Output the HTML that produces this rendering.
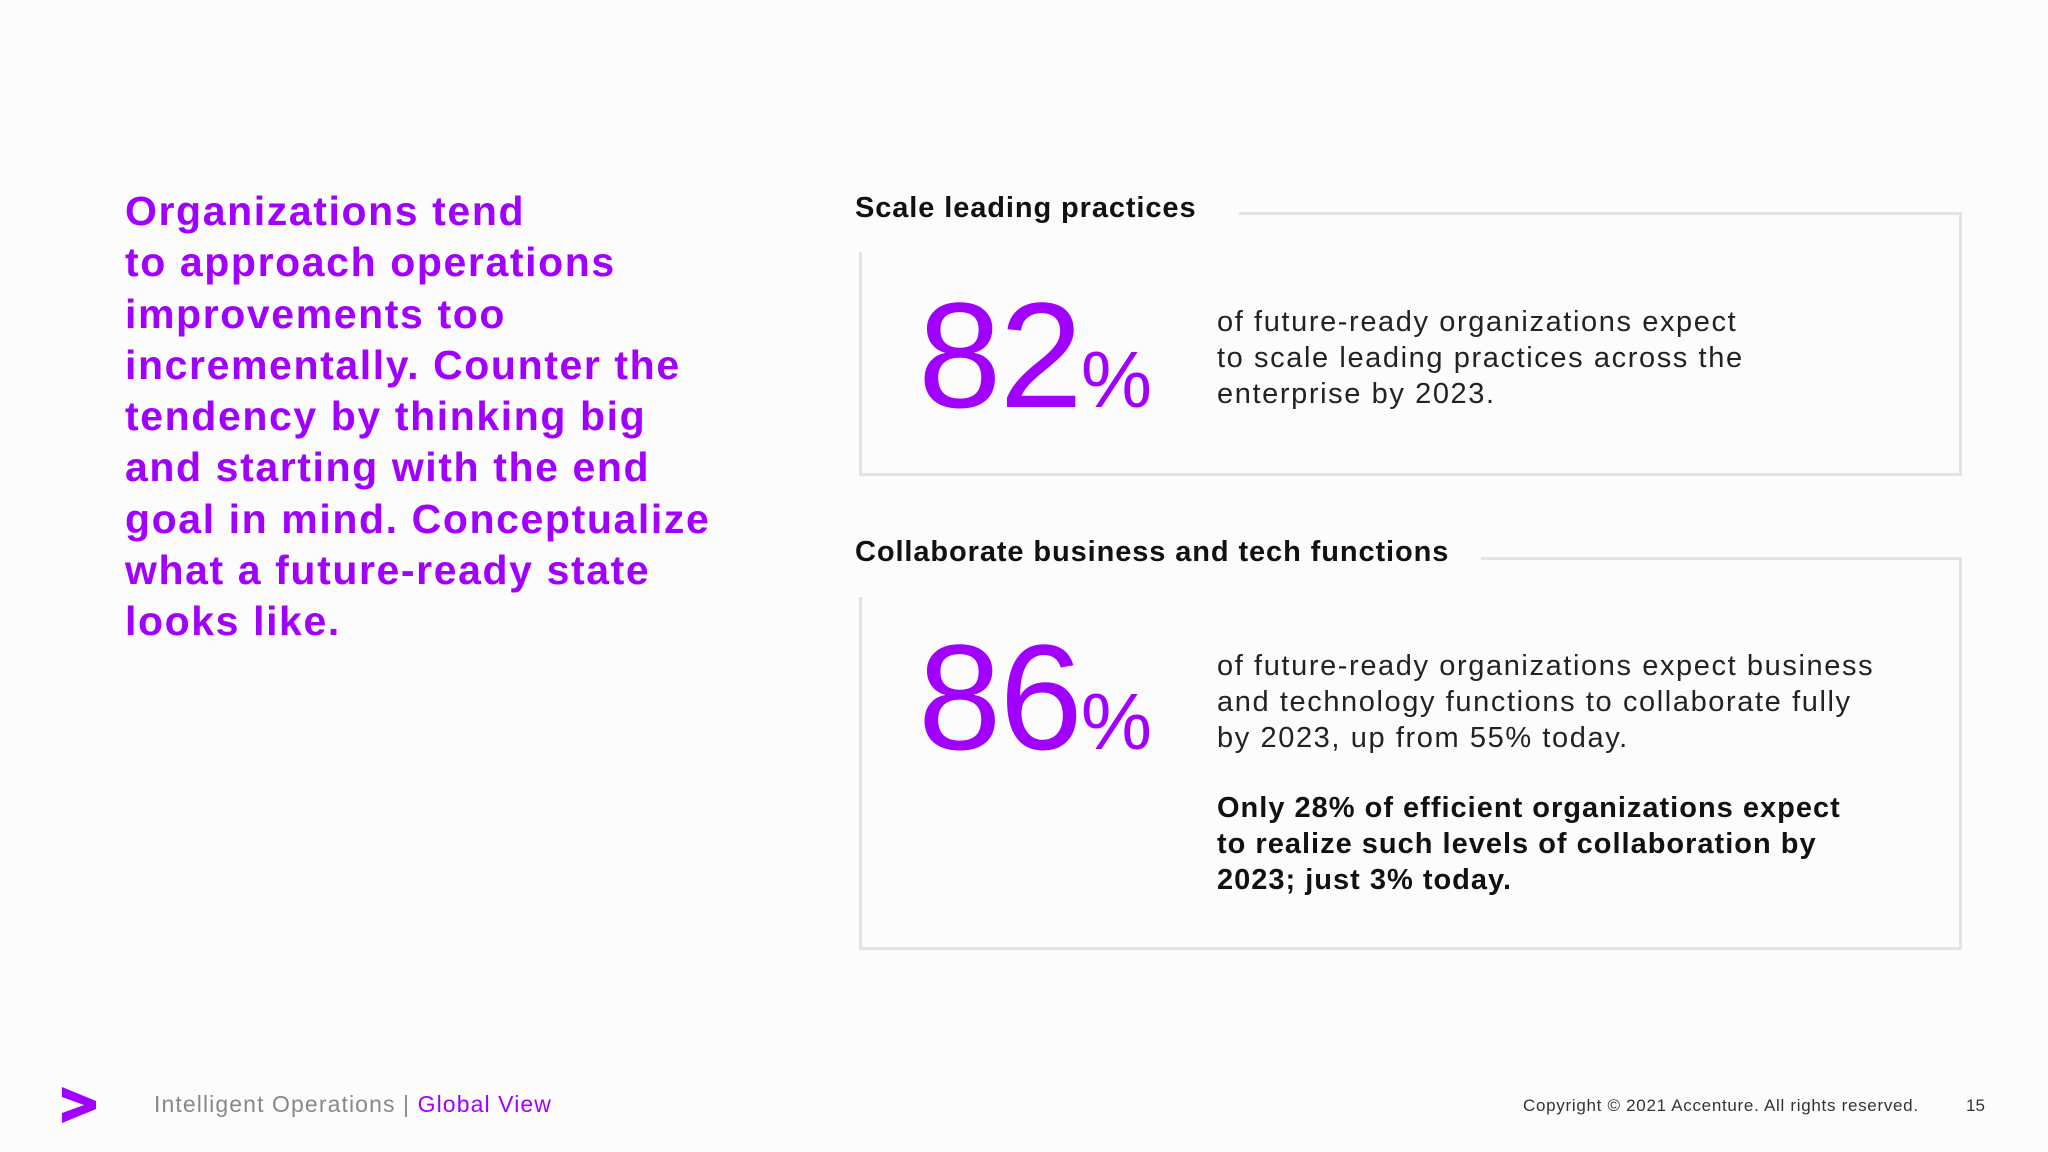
<!DOCTYPE html>
<html><head><meta charset="utf-8"><style>
*{margin:0;padding:0;box-sizing:border-box}
body{width:2048px;height:1152px;background:#fdfcfd;position:relative;overflow:hidden;font-family:"Liberation Sans",sans-serif;color:#111}
.a{position:absolute;white-space:nowrap}
.head{left:125px;top:186px;font-size:41px;line-height:51.3px;font-weight:bold;color:#a100ff;letter-spacing:1.6px}
.st{font-size:29px;font-weight:bold;letter-spacing:0.9px}
.line{position:absolute;background:#e3e3e0}
.big{color:#a100ff;font-size:150px;line-height:1;letter-spacing:-2px}
.big span{font-size:80px;letter-spacing:0}
.tx{font-size:29px;line-height:36px;color:#222;letter-spacing:1.6px}
</style></head><body>
<div class="a head">Organizations tend<br>to approach operations<br>improvements too<br>incrementally. Counter the<br>tendency by thinking big<br>and starting with the end<br>goal in mind. Conceptualize<br>what a future-ready state<br>looks like.</div>

<div class="a st" style="left:855px;top:192px">Scale leading practices</div>
<div class="line" style="left:1239px;top:212px;width:723px;height:3px"></div>
<div class="line" style="left:1959px;top:212px;width:3px;height:264px"></div>
<div class="line" style="left:859px;top:252px;width:3px;height:224px"></div>
<div class="line" style="left:859px;top:473px;width:1103px;height:3px"></div>
<div class="a big" style="left:918px;top:280px">82<span>%</span></div>
<div class="a tx" style="left:1217px;top:304px">of future-ready organizations expect<br>to scale leading practices across the<br>enterprise by 2023.</div>

<div class="a st" style="left:855px;top:536px">Collaborate business and tech functions</div>
<div class="line" style="left:1481px;top:557px;width:481px;height:3px"></div>
<div class="line" style="left:1959px;top:557px;width:3px;height:393px"></div>
<div class="line" style="left:859px;top:597px;width:3px;height:353px"></div>
<div class="line" style="left:859px;top:947px;width:1103px;height:3px"></div>
<div class="a big" style="left:918px;top:622px">86<span>%</span></div>
<div class="a tx" style="left:1217px;top:648px">of future-ready organizations expect business<br>and technology functions to collaborate fully<br>by 2023, up from 55% today.</div>
<div class="a tx" style="left:1217px;top:790px;font-weight:bold;color:#111;letter-spacing:1px">Only 28% of efficient organizations expect<br>to realize such levels of collaboration by<br>2023; just 3% today.</div>

<svg class="a" style="left:62px;top:1087px" width="36" height="36"><polygon points="0,0 34,14 34,22 0,36 0,26 22,18 0,10" fill="#a100ff"/></svg>
<div class="a" style="left:154px;top:1091px;font-size:23px;color:#888;letter-spacing:1.1px">Intelligent Operations | <span style="color:#a100ff">Global View</span></div>
<div class="a" style="left:1523px;top:1096px;font-size:17px;color:#333;letter-spacing:0.7px">Copyright © 2021 Accenture. All rights reserved.</div>
<div class="a" style="left:1966px;top:1096px;font-size:17px;color:#333">15</div>
</body></html>
